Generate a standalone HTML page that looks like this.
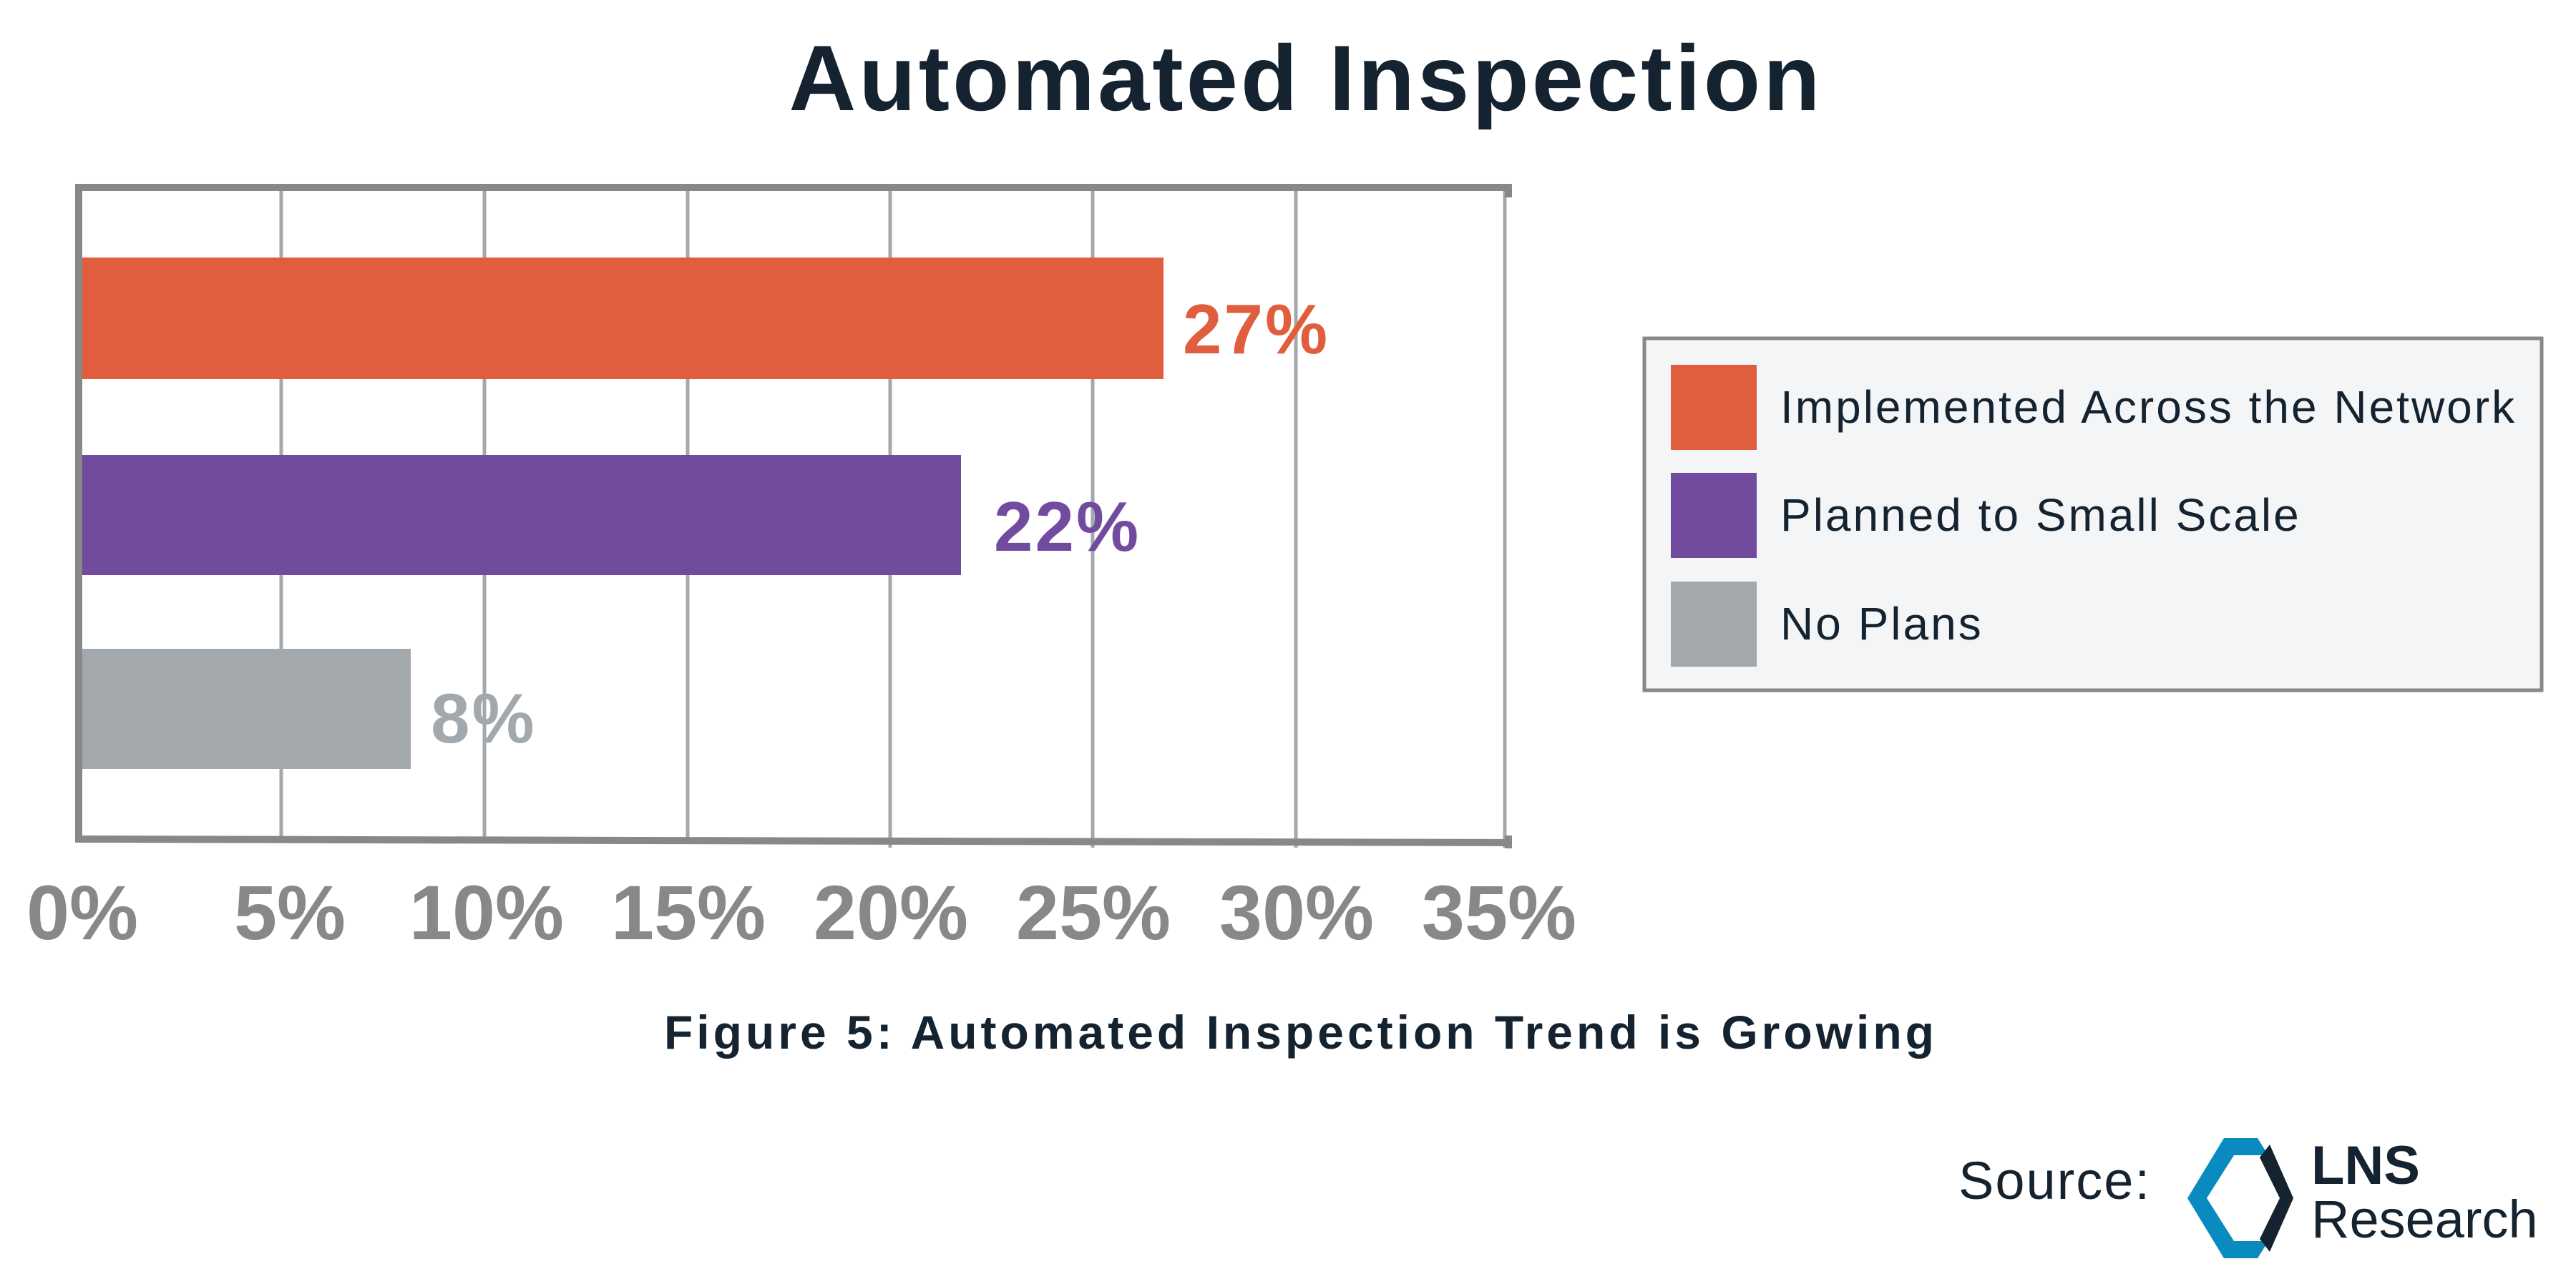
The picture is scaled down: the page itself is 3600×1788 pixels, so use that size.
<!DOCTYPE html>
<html><head><meta charset="utf-8"><style>
html,body{margin:0;padding:0;background:#fff;}
svg{display:block;}
text{font-family:"Liberation Sans",sans-serif;}
</style></head><body>
<svg width="3600" height="1788" viewBox="0 0 3600 1788" xmlns="http://www.w3.org/2000/svg">
<rect width="3600" height="1788" fill="#fff"/>
<text x="1825" y="154" text-anchor="middle" font-size="130" font-weight="bold" fill="#14232f" letter-spacing="4">Automated Inspection</text>
<g stroke="#a3a8ad" stroke-width="5">
<line x1="393" y1="262" x2="393" y2="1178"/>
<line x1="677" y1="262" x2="677" y2="1178"/>
<line x1="961" y1="262" x2="961" y2="1178"/>
<line x1="1244" y1="262" x2="1244" y2="1185"/>
<line x1="1527" y1="262" x2="1527" y2="1185"/>
<line x1="1811" y1="262" x2="1811" y2="1185"/>
<line x1="2103" y1="262" x2="2103" y2="1185"/>
</g>
<rect x="114" y="360" width="1512" height="170" fill="#e05d3e"/>
<rect x="114" y="636" width="1229" height="168" fill="#714c9e"/>
<rect x="114" y="907" width="460" height="168" fill="#a3a8ad"/>
<path d="M2112 262 H110 V1173 L2112 1178" fill="none" stroke="#888" stroke-width="10"/>
<line x1="2108" y1="257" x2="2108" y2="276" stroke="#888" stroke-width="10"/>
<line x1="2108" y1="1168" x2="2108" y2="1186" stroke="#888" stroke-width="10"/>
<g font-weight="bold" font-size="98">
<text x="1653" y="494" fill="#e05d3e" letter-spacing="3">27%</text>
<text x="1389" y="770" fill="#714c9e" letter-spacing="3">22%</text>
<text x="602" y="1038" fill="#a3a8ad" letter-spacing="3">8%</text>
</g>
<g font-weight="bold" font-size="108" fill="#888" text-anchor="middle">
<text x="115" y="1313">0%</text>
<text x="405" y="1313">5%</text>
<text x="680" y="1313">10%</text>
<text x="962" y="1313">15%</text>
<text x="1245" y="1313">20%</text>
<text x="1528" y="1313">25%</text>
<text x="1812" y="1313">30%</text>
<text x="2095" y="1313">35%</text>
</g>
<rect x="2298" y="473" width="1254" height="492" fill="#f3f5f7" stroke="#888" stroke-width="5"/>
<rect x="2335" y="510" width="120" height="119" fill="#e05d3e"/>
<rect x="2335" y="661" width="120" height="119" fill="#714c9e"/>
<rect x="2335" y="813" width="120" height="119" fill="#a3a8ad"/>
<g font-size="64" fill="#14232f" letter-spacing="3">
<text x="2488" y="591">Implemented Across the Network</text>
<text x="2488" y="742">Planned to Small Scale</text>
<text x="2488" y="894">No Plans</text>
</g>
<text x="1818" y="1466" text-anchor="middle" font-size="66" font-weight="bold" fill="#14232f" letter-spacing="5">Figure 5: Automated Inspection Trend is Growing</text>
<text x="2737" y="1676" font-size="74" fill="#14232f" letter-spacing="2">Source:</text>
<polygon points="3108,1591 3057,1675 3108,1759 3155,1759 3170,1735 3122,1735 3084,1675 3122,1615 3170,1615 3155,1591" fill="#0a8bbf"/>
<polygon points="3172,1600 3158,1618 3186,1675 3158,1732 3172,1750 3205,1675" fill="#14232f"/>
<text x="3230" y="1655" font-size="76" font-weight="bold" fill="#14232f">LNS</text>
<text x="3230" y="1730" font-size="74" fill="#14232f">Research</text>
</svg>
</body></html>
